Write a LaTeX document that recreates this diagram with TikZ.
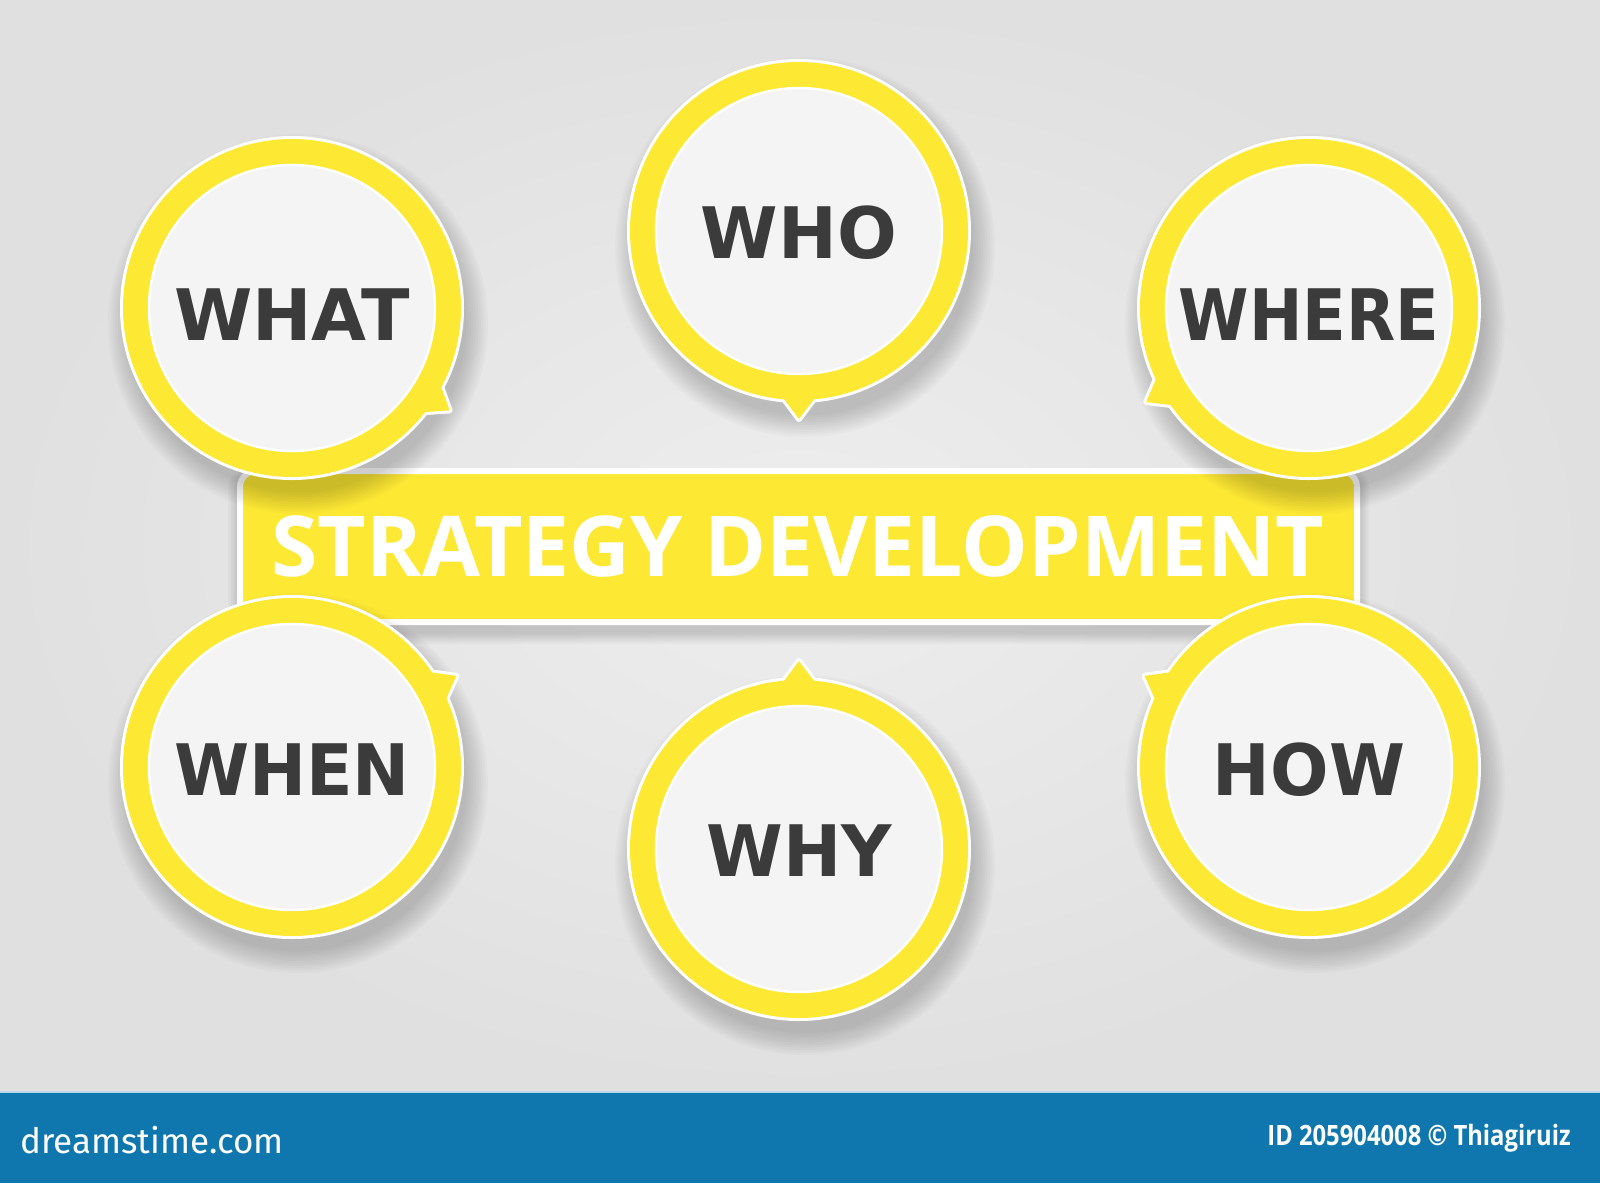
\documentclass[tikz,border=0pt]{standalone}
\usepackage{fontspec}
\setmainfont{Open Sans}
\newfontfamily\brandfont{Fira Sans}
\newfontfamily\wordfont{DejaVu Sans}
\usetikzlibrary{calc}
\definecolor{ylw}{HTML}{FDE933}
\definecolor{innerc}{HTML}{F4F4F4}
\definecolor{txtc}{HTML}{3B3B3B}
\definecolor{barc}{HTML}{0F77AE}
\definecolor{bgin}{HTML}{EEEEEE}
\definecolor{bgout}{HTML}{E0E0E0}
\tikzset{
  word/.style={font=\wordfont\bfseries\fontsize{35.5}{38}\selectfont, text=txtc, inner sep=0pt},
  bannertext/.style={font=\bfseries\fontsize{42}{44}\selectfont, text=white, inner sep=0pt},
}
\newcommand\mybadge[6]{%
  \coordinate (#1c) at (#2);
  \foreach \k in {1,...,10}{
    \fill[black,opacity=0.018] ($(#1c)+(6,16)$) circle[radius=83pt+\k*1.2pt];
  }
  \draw[white,line width=3pt,line join=round]
    ($(#1c)+(#3-8:160)$) -- ($(#1c)+(#3:188)$) -- ($(#1c)+(#3+8:160)$) -- cycle
    (#1c) circle[radius=84.5pt];
  \fill[ylw] ($(#1c)+(#3-8:160)$) -- ($(#1c)+(#3:188)$) -- ($(#1c)+(#3+8:160)$) -- cycle;
  \fill[ylw] (#1c) circle[radius=84.5pt];
  \draw[white,line width=1.2pt,fill=innerc] (#1c) circle[radius=71.5pt];
  \node[word] (#1) at ($(#1c)+(0,#5)$) {\scalebox{#6}[1]{#4}};
}
\begin{document}
\begin{tikzpicture}[x=0.5pt,y=-0.5pt]
\useasboundingbox (0,0) rectangle (1600,1183);
\shade[inner color=bgin, outer color=bgout] (0,0) rectangle (1600,1093);
% banner
\foreach \k in {1,...,8}{
  \fill[black,opacity=0.02,rounded corners=8pt] (240-\k*1.5,478-\k) rectangle (1357+\k*1.5,632+\k*1.5);
}
\draw[white,line width=3pt,fill=ylw,rounded corners=8pt] (240,471) rectangle (1357,622);
\node[bannertext] (banner) at (798,546) {STRATEGY DEVELOPMENT};
% badges
\mybadge{what}{292,308}{33}{WHAT}{7}{1}
\mybadge{who}{799,231}{90}{WHO}{2}{0.99}
\mybadge{where}{1309,308}{150}{WHERE}{7}{0.9}
\mybadge{when}{292,767}{-29}{WHEN}{3}{0.96}
\mybadge{why}{799,849}{-90}{WHY}{2}{0.98}
\mybadge{how}{1309,767}{209}{HOW}{3}{0.97}
% bottom bar
\fill[barc] (0,1093) rectangle (1600,1183);
\draw[barc!30!white,line width=1.2pt] (0,1092) -- (1600,1092);
\node[anchor=west,text=white,inner sep=0pt,font=\brandfont\fontsize{17.5}{18}\selectfont] (brand) at (20,1140) {dreamstime.com};
\node[anchor=east,text=white,inner sep=0pt,font=\bfseries\fontsize{14}{14}\selectfont] (credit) at (1571,1138) {\scalebox{0.85}[1]{ID 205904008 © Thiagiruiz}};
\end{tikzpicture}
\end{document}
